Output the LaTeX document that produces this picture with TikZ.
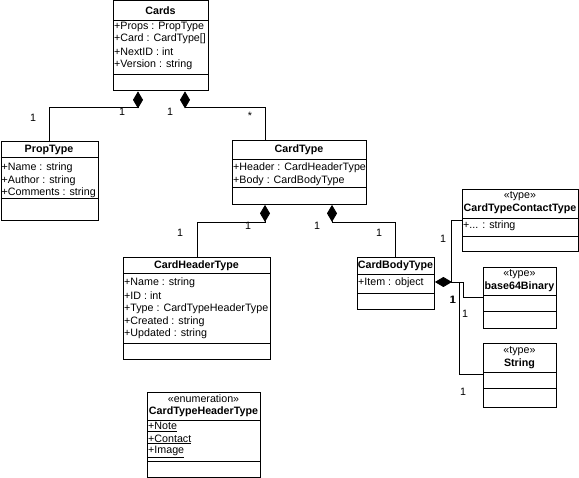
\documentclass[tikz,border=0pt]{standalone}
\usepackage{fontspec}
\setmainfont{Liberation Sans}
\usetikzlibrary{arrows.meta}
\begin{document}
\begin{tikzpicture}[x=1pt,y=-1pt,
  every node/.style={font=\fontsize{10.7}{12}\selectfont},
  box/.style={draw=black,line width=0.9pt,anchor=north west,inner sep=0pt},
  sep/.style={line width=0.9pt},
  ttl/.style={font=\fontsize{10.7}{12}\selectfont\bfseries,inner sep=0pt},
  ster/.style={inner sep=0pt},
  attr/.style={anchor=west,inner xsep=1pt,inner ysep=0pt},
  lbl/.style={inner sep=0pt},
  conn/.style={line width=0.8pt},
  comp/.style={line width=0.8pt,{Diamond[length=17pt,width=10pt,fill=black]}-}]
\useasboundingbox (0,0) rectangle (579,478);
\fill[white] (0,0) rectangle (579,478);

% Cards
\node[box,minimum width=95pt,minimum height=90pt] (cards) at (113,0.5) {};
\draw[sep] (113,20) -- (208,20);
\draw[sep] (113,74) -- (208,74);
\node[ttl] (cardsT) at (160.5,10.5) {Cards};
\node[attr] (ca1) at (113,26.5) {+Props : PropType};
\node[attr] (ca2) at (113,39.2) {+Card : CardType[]};
\node[attr] (ca3) at (113,51.9) {+NextID : int};
\node[attr] (ca4) at (113,64.6) {+Version : string};

% PropType
\node[box,minimum width=97pt,minimum height=79pt] (prop) at (0.5,141) {};
\draw[sep] (0.5,157) -- (97.5,157);
\draw[sep] (0.5,198) -- (97.5,198);
\node[ttl] (propT) at (49,149.5) {PropType};
\node[attr] (pa1) at (0.5,168) {+Name : string};
\node[attr] (pa2) at (0.5,180.5) {+Author : string};
\node[attr] (pa3) at (0.5,193) {+Comments : string};

% CardType
\node[box,minimum width=134pt,minimum height=64pt] (ct) at (232,140) {};
\draw[sep] (232,159) -- (366,159);
\draw[sep] (232,187) -- (366,187);
\node[ttl] (ctT) at (299,149.5) {CardType};
\node[attr] (cta1) at (232,168) {+Header : CardHeaderType};
\node[attr] (cta2) at (232,180.5) {+Body : CardBodyType};

% CardHeaderType
\node[box,minimum width=147pt,minimum height=102pt] (cht) at (123,257) {};
\draw[sep] (123,273) -- (270,273);
\draw[sep] (123,343) -- (270,343);
\node[ttl] (chtT) at (196.5,266) {CardHeaderType};
\node[attr] (ha1) at (123,283) {+Name : string};
\node[attr] (ha2) at (123,295.8) {+ID : int};
\node[attr] (ha3) at (123,308.6) {+Type : CardTypeHeaderType};
\node[attr] (ha4) at (123,321.4) {+Created : string};
\node[attr] (ha5) at (123,334.2) {+Updated : string};

% CardBodyType
\node[box,minimum width=77pt,minimum height=52pt] (cbt) at (357,257) {};
\draw[sep] (357,274) -- (434,274);
\draw[sep] (357,293) -- (434,293);
\node[ttl] (cbtT) at (395.5,266) {CardBodyType};
\node[attr] (ba1) at (357,283) {+Item : object};

% CardTypeContactType
\node[box,minimum width=116pt,minimum height=62pt] (ctc) at (462,189) {};
\draw[sep] (462,218) -- (578,218);
\draw[sep] (462,236) -- (578,236);
\node[ster] (ctcS) at (520,196.5) {«type»};
\node[ttl] (ctcT) at (520,209) {CardTypeContactType};
\node[attr] (cca1) at (462,225.5) {+... : string};

% base64Binary
\node[box,minimum width=73pt,minimum height=61pt] (b64) at (483,267) {};
\draw[sep] (483,295) -- (556,295);
\draw[sep] (483,311) -- (556,311);
\node[ster] (b64S) at (519.5,274) {«type»};
\node[ttl] (b64T) at (519.5,287) {base64Binary};

% String
\node[box,minimum width=73pt,minimum height=64pt] (str) at (483,343) {};
\draw[sep] (483,372) -- (556,372);
\draw[sep] (483,388) -- (556,388);
\node[ster] (strS) at (519.5,351) {«type»};
\node[ttl] (strT) at (519.5,363.5) {String};

% CardTypeHeaderType enumeration
\node[box,minimum width=113pt,minimum height=85pt] (enum) at (147,392) {};
\draw[sep] (147,420) -- (260,420);
\draw[sep] (147,461) -- (260,461);
\node[ster] (enS) at (203.5,398.5) {«enumeration»};
\node[ttl] (enT) at (203.5,412) {CardTypeHeaderType};
\node[attr] (ea1) at (147,427) {\underline{+Note}};
\node[attr] (ea2) at (147,439.5) {\underline{+Contact}};
\node[attr] (ea3) at (147,452) {\underline{+Image}};

% connectors
\coordinate (j1) at (138,107.5);
\coordinate (j2) at (185,107.5);
\draw[comp] ([xshift=25pt]cards.south west) -- (j1) -| (prop.north);
\draw[comp] ([xshift=72pt]cards.south west) -- (j2) -| ([xshift=33pt]ct.north west);

\coordinate (j3) at (265,222.5);
\coordinate (j4) at (332,222.5);
\draw[comp] ([xshift=33pt]ct.south west) -- (j3) -| ([xshift=74pt]cht.north west);
\draw[comp] ([xshift=100pt]ct.south west) -- (j4) -| ([xshift=38pt]cbt.north west);

\coordinate (hub) at (451,282);
\coordinate (hb) at (463,282);
\coordinate (hs) at (459,282);
\draw[comp] ([yshift=-25pt]cbt.north east) -- (hub);
\draw[conn] (hub) |- ([yshift=-31pt]ctc.north west);
\draw[conn] (hub) -- (hb) |- ([yshift=-30pt]b64.north west);
\draw[conn] (hub) -- (hs) |- ([yshift=-31pt]str.north west);

% multiplicities
\node[lbl] (m1) at (33,118) {1};
\node[lbl] (m2) at (122,112) {1};
\node[lbl] (m3) at (170,112) {1};
\node[lbl] (m4) at (250,116) {*};
\node[lbl] (m5) at (180,233) {1};
\node[lbl] (m6) at (248,226) {1};
\node[lbl] (m7) at (317,226) {1};
\node[lbl] (m8) at (379,233) {1};
\node[lbl] (m9) at (443,239) {1};
\node[lbl] (m10) at (452.3,300) {1};
\node[lbl] (m11) at (453.3,300) {1};
\node[lbl] (m12) at (465,314) {1};
\node[lbl] (m13) at (463,392) {1};
\end{tikzpicture}
\end{document}
